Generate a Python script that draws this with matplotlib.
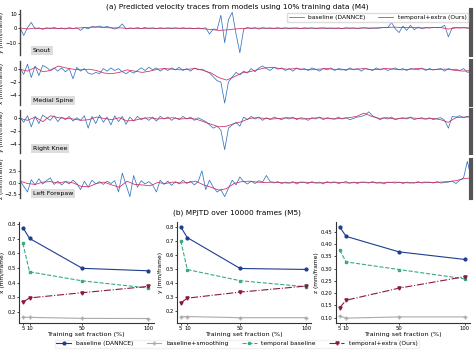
import numpy as np
import matplotlib
matplotlib.use("Agg")
import matplotlib.pyplot as plt

plt.rcParams['font.family'] = ['DejaVu Sans']

# --- (a) velocity traces ---
joints = ["Snout", "Medial Spine", "Right Knee", "Left Forepaw"]
axis_names = ["y (mm/frame)", "x (mm/frame)", "y (mm/frame)", "z (mm/frame)"]

snout_base = [0.5, -5, 0.3, 4, -0.5, 0.2, -0.8, 0.3, -0.4, 0.5, -0.3, 0.2, -0.6, 0.4, -0.2, 0.3,
              -1.5, 0.6, -0.5, 1.2, 0.8, 1.5, 0.6, 1.2, 0.4, -0.6, 0.3, 3, -0.5, 0.2, -0.3, 0.4,
              -0.2, 0.5, -0.4, 0.2, -0.3, 0.3, -0.2, 0.2, -0.3, 0.2, -0.1, 0.3, -0.2, 0.1, -0.3, 0.2,
              -0.2, 0.3, -4, -0.5, -1, 9, -10, 6, 11, -4, -17, -0.8, 0.5, -0.3, 0.4, -0.6, 0.3, -0.2,
              0.2, -0.1, 0.3, -0.2, 0.2, -0.3, 0.1, 0.2, -0.2, 0.3, -0.1, 0.2, -0.3, 0.1, 0.2, -0.2,
              0.1, -0.1, 0.2, -0.2, 0.3, -0.1, 0.2, -0.2, 0.1, 0.3, -0.2, 0.1, -0.1, 0.2, 0.5, 0.3,
              4, -0.5, -3, 1.5, -1.5, 2, -1, 0.8, -0.4, 0.5, 0.2, 0.6, 0.3, 0.5, 2, -6, 0.3, 0.5,
              0.2, 0.4, 0.1, 0.0]
snout_ours = [0.2, -0.5, 0.1, -0.2, 0.1, -0.3, 0.0, -0.2, 0.3, 0.6, 0.8, 0.5, 0.2, 0.3, -0.1,
              0.0, -0.2, 0.1, -0.1, 0.0, 0.1, -0.1, 0.0, -0.2, -0.4, -0.9, -1.5, -1.2, -0.6, -0.2,
              0.1, 0.0, 0.1, -0.1, 0.0, 0.1, 0.0, -0.1, 0.1, 0.0, 0.1, 0.0, -0.1, 0.1, 0.0, 0.2,
              0.1, 0.3, 0.5, 0.8, 0.4, 0.6, 0.3, 0.2, 0.4, 0.5, -0.6, 0.2, 0.3, 0.1]

spine_base = [0.2, -0.8, 0.8, -1.3, 0.5, -1.0, 0.6, 0.3, -0.2, 0.2, -0.3, 0.2, -0.4, 0.1,
              -1.5, 0.3, -0.3, 0.1, -0.6, -0.8, -0.5, -0.7, 0.1, -0.3, 0.2, -0.2, 0.1, -0.4,
              -0.7, -0.3, -0.6, -0.2, 0.2, -0.2, 0.3, -0.1, 0.2, -0.3, 0.1, -0.2, 0.2, -0.1,
              0.3, -0.2, 0.1, -0.3, 0.2, -0.1, 0.0, -0.3, -0.6, -1.2, -1.8, -2.0, -5.3, -2.0,
              -1.2, -0.5, -0.9, -0.3, -0.6, 0.1, -0.4, 0.2, 0.5, 0.1, -0.2, 0.3, 0.0, 0.2, -0.2,
              0.1, -0.3, 0.2, -0.1, 0.1, -0.2, 0.2, 0.0, -0.3, 0.1, -0.1, 0.2, -0.2, 0.1, 0.0,
              -0.2, 0.2, -0.1, 0.1, -0.3, 0.1, 0.0, -0.2, 0.2, -0.1, 0.1, -0.2, 0.0, 0.2, -0.1,
              0.1, -0.2, 0.1, 0.0, -0.1, 0.2, -0.2, 0.1, -0.1, 0.0, 0.1, -0.3, 0.1, -0.1, 0.0,
              -0.2, 0.1, -0.5, -0.3]
spine_ours = [0.0, -0.3, 0.3, -0.4, -0.2, 0.5, 0.2, 0.0, -0.1, 0.0, -0.2, -0.6, -0.7, -0.5,
              -0.1, -0.3, -0.5, -0.3, 0.0, 0.1, 0.0, -0.1, 0.0, 0.1, -0.2, -0.6, -1.3, -1.7,
              -1.2, -0.6, -0.4, -0.1, 0.2, 0.3, 0.1, 0.0, 0.1, 0.0, -0.1, 0.0, 0.1, 0.0, -0.1,
              0.0, 0.0, 0.1, -0.1, 0.0, 0.1, 0.0, -0.1, 0.0, 0.1, 0.0, -0.1, 0.0, 0.0, -0.2,
              -0.3, -0.2]

knee_base = [0.2, -0.6, 0.4, -1.3, 0.3, -0.8, 0.5, 0.1, -0.3, 0.4, -0.5, 0.2, -0.2, 0.3,
             -0.4, 0.1, -0.3, 0.4, -1.5, 0.3, -0.8, 0.5, -0.6, 0.2, -1.0, 0.4, -0.5, 0.3,
             -0.9, 0.2, -0.4, 0.3, -0.2, 0.1, -0.3, 0.2, -0.4, 0.3, -0.1, 0.2, -0.3, 0.1,
             -0.2, 0.3, -0.1, 0.2, -0.3, 0.1, -0.2, -0.5, -1.0, -1.5, -1.2, -1.8, -4.8, -1.5,
             -1.0, -0.6, -1.2, 0.2, -0.2, 0.3, -0.1, 0.2, -0.3, 0.1, -0.2, 0.2, 0.0, -0.2, 0.1,
             -0.1, 0.2, -0.2, 0.1, 0.0, -0.3, 0.1, -0.1, 0.2, -0.2, 0.1, 0.0, -0.1, 0.2, -0.1,
             0.1, -0.2, 0.0, 0.2, 0.3, 0.5, 1.0, 0.4, 0.1, -0.2, 0.1, -0.1, 0.2, -0.2, 0.0,
             0.1, -0.1, 0.2, -0.2, 0.0, 0.1, -0.1, 0.1, -0.2, 0.0, 0.1, -0.3, -1.5, 0.3, 0.2,
             0.4, 0.1, 0.3, 0.2]
knee_ours = [0.0, -0.3, 0.2, -0.5, 0.4, 0.1, 0.0, -0.1, -0.3, -0.2, 0.2, 0.0, -0.2, 0.1,
             -0.4, -0.3, 0.0, 0.1, -0.1, 0.0, 0.1, -0.1, 0.0, -0.1, -0.5, -0.9, -1.3, -1.2,
             -0.8, -0.5, 0.0, 0.1, 0.0, -0.1, 0.0, 0.1, 0.0, -0.1, 0.0, 0.1, 0.0, -0.1, 0.0,
             0.1, 0.3, 0.8, 0.3, 0.0, 0.1, -0.1, 0.0, 0.1, 0.0, -0.1, 0.0, -0.2, -0.6, 0.1,
             0.2, 0.2]

paw_base = [0.5, -0.8, -2.0, 0.6, -0.5, 0.8, -0.3, 0.4, 1.0, -0.4, 0.3, -0.5, 0.2, -0.3,
            0.5, -0.2, -1.5, 0.3, -1.0, 0.5, -0.3, 0.2, -0.4, 0.3, -0.2, 0.4, -2.0, 2.0,
            -0.5, -3.0, 1.5, -1.0, 0.4, -0.3, 0.2, -0.5, -2.0, 0.5, -0.4, 0.3, -0.6, 0.2,
            -0.3, 0.5, -0.2, 0.3, -0.5, 0.2, 2.5, -1.5, 0.5, -1.0, -2.0, -1.5, -3.0, -1.2,
            0.5, -0.5, 1.2, 0.2, -0.3, 0.3, -0.2, 0.4, 0.1, 1.5, 0.2, -0.1, 0.2, -0.2, 0.1,
            -0.1, 0.2, -0.3, 0.1, 0.0, -0.2, 0.2, -0.1, 0.1, -0.3, 0.2, -0.1, 0.1, -0.2,
            0.0, 0.2, -0.1, 0.1, -0.2, 0.1, 0.0, -0.1, 0.2, -0.1, 0.1, -0.3, 0.1, 0.0, -0.1,
            0.1, -0.2, 0.1, 0.0, -0.1, 0.2, -0.1, 0.0, 0.1, -0.1, 0.2, -0.1, 0.0, 0.1, 0.3,
            -0.2, 0.5, 1.0, 4.5, 1.0]
paw_ours = [0.3, -0.2, -0.4, 0.1, 0.2, -0.1, 0.2, -0.1, -0.8, -0.9, -0.2, 0.1, -0.5, -1.0,
            0.3, -0.4, -0.5, -0.7, 0.0, -0.2, 0.1, -0.1, 0.0, 0.3, -0.5, -1.0, -1.6, -1.3,
            -0.2, 0.2, 0.3, 0.1, 0.0, 0.1, 0.0, -0.1, 0.0, 0.1, 0.0, -0.1, 0.0, 0.1, 0.0,
            -0.1, 0.0, 0.1, 0.0, -0.1, 0.0, 0.1, 0.0, -0.1, 0.0, 0.1, 0.0, 0.1, 0.2, 0.4,
            0.8, 1.0]

base_traces = [snout_base, spine_base, knee_base, paw_base]
ours_traces = [snout_ours, spine_ours, knee_ours, paw_ours]
trace_ylims = [(-18.5, 12.5), (-5.6, 1.3), (-5.3, 1.3), (-3.3, 4.8)]
trace_yticks = [[10, 0, -10], [0, -2, -4], [0, -2, -4], [2.5, 0.0, -2.5]]

# --- (b) MPJTD vs training fraction ---
fractions = [5, 10, 50, 100]
methods = ["baseline (DANNCE)", "baseline+smoothing", "temporal baseline", "temporal+extra (Ours)"]
mpjtd_x = [[0.777, 0.703, 0.498, 0.481],
           [0.163, 0.162, 0.155, 0.154],
           [0.669, 0.474, 0.412, 0.363],
           [0.267, 0.295, 0.331, 0.374]]
mpjtd_y = [[0.797, 0.721, 0.502, 0.495],
           [0.158, 0.160, 0.152, 0.152],
           [0.698, 0.494, 0.415, 0.372],
           [0.258, 0.291, 0.334, 0.377]]
mpjtd_z = [[0.470, 0.431, 0.368, 0.337],
           [0.107, 0.098, 0.103, 0.103],
           [0.375, 0.327, 0.296, 0.258],
           [0.140, 0.171, 0.220, 0.267]]

styles = [dict(color='#1f3d8f', ls='-', marker='o', ms=2.0),
          dict(color='#aaaaaa', ls='-', marker='+', ms=2.8),
          dict(color='#3aaa80', ls='--', marker='s', ms=2.0),
          dict(color='#8b1a3c', ls='-.', marker='v', ms=2.3)]

TICK = 3.8
LAB = 4.2

fig = plt.figure(figsize=(4.74, 3.5), dpi=100)

trace_boxes = [(0.843, 0.971), (0.700, 0.826), (0.563, 0.686), (0.434, 0.543)]
for k in range(4):
    b, t = trace_boxes[k]
    ax = fig.add_axes([0.042, b, 0.952, t - b])
    xb = np.linspace(0, 1, len(base_traces[k]))
    xo = np.linspace(0, 1, len(ours_traces[k]))
    ax.plot(xb, base_traces[k], color='#3475c0', lw=0.55, label='baseline (DANNCE)')
    ax.plot(xo, ours_traces[k], color='#cf2a5c', lw=0.55, label='temporal+extra (Ours)')
    ax.set_xlim(0, 1)
    ax.set_ylim(*trace_ylims[k])
    ax.set_yticks(trace_yticks[k])
    ax.set_xticks([])
    for s in ['top', 'bottom']:
        ax.spines[s].set_visible(False)
    ax.spines['left'].set_color('#444444')
    ax.spines['left'].set_linewidth(1.0)
    ax.spines['right'].set_color('#555555')
    ax.spines['right'].set_linewidth(3)
    ax.tick_params(labelsize=TICK, length=1.5, width=0.5, pad=0.8)
    ax.set_ylabel(axis_names[k], fontsize=LAB)
    ax.yaxis.set_label_coords(-0.036, 0.5)
    ax.text(0.028, 0.05, joints[k], transform=ax.transAxes, fontsize=4.5,
            va='bottom', ha='left',
            bbox=dict(boxstyle='square,pad=0.3', fc='#dddddd', ec='none'))
    if k == 0:
        ax.legend(loc='upper right', ncol=2, fontsize=4.3, frameon=True,
                  handlelength=2.5, borderpad=0.3, columnspacing=2.0,
                  framealpha=1, edgecolor='#dddddd', fancybox=False)

fig.text(0.5, 0.981, "(a) Predicted velocity traces from models using 10% training data (M4)",
         ha='center', va='center', fontsize=5.3)
fig.text(0.5, 0.391, "(b) MPJTD over 10000 frames (M5)", ha='center', va='center', fontsize=5.3)

panels = [(0.040, mpjtd_x, "x (mm/frame)", (0.123, 0.816), [0.2, 0.3, 0.4, 0.5, 0.6, 0.7, 0.8], -0.105),
          (0.373, mpjtd_y, "y (mm/frame)", (0.114, 0.833), [0.2, 0.3, 0.4, 0.5, 0.6, 0.7, 0.8], -0.105),
          (0.708, mpjtd_z, "z (mm/frame)", (0.078, 0.490),
           [0.10, 0.15, 0.20, 0.25, 0.30, 0.35, 0.40, 0.45], -0.125)]
handles = []
for left, vals, ylab, ylim, yt, lx in panels:
    ax = fig.add_axes([left, 0.077, 0.284, 0.289])
    hs = []
    for m in range(4):
        h, = ax.plot(fractions, vals[m], lw=0.8, label=methods[m], **styles[m])
        hs.append(h)
    handles = hs
    ax.set_xlim(2, 104)
    ax.set_ylim(*ylim)
    ax.set_xticks(fractions)
    ax.set_yticks(yt)
    ax.yaxis.set_major_formatter(plt.FormatStrFormatter('%.2f' if left > 0.7 else '%.1f'))
    ax.spines['top'].set_visible(False)
    ax.spines['right'].set_visible(False)
    for s in ['left', 'bottom']:
        ax.spines[s].set_color('#333333')
        ax.spines[s].set_linewidth(0.8)
    ax.tick_params(labelsize=TICK, length=1.5, width=0.5, pad=0.8)
    ax.set_xlabel("Training set fraction (%)", fontsize=LAB + 0.4, labelpad=0.5)
    ax.set_ylabel(ylab, fontsize=LAB)
    ax.yaxis.set_label_coords(lx, 0.5)

fig.legend(handles, methods, loc='center', bbox_to_anchor=(0.5, 0.018), ncol=4,
           fontsize=4.3, frameon=True, edgecolor='#eeeeee', fancybox=False,
           handlelength=2.5, borderpad=0.25, columnspacing=2.2)

fig.savefig("out.png", dpi=100)
